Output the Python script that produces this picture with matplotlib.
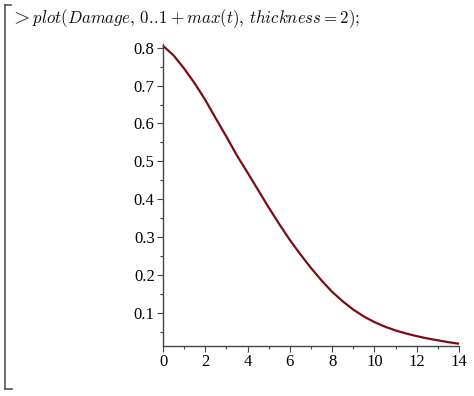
import matplotlib
matplotlib.use("Agg")
import matplotlib.pyplot as plt
from matplotlib.lines import Line2D
from matplotlib.ticker import MultipleLocator

# Data
t = [0, 0.5, 1, 1.5, 2, 2.5, 3, 3.5, 4, 4.5, 5, 5.5, 6, 6.5, 7, 7.5,
     8, 8.5, 9, 9.5, 10, 10.5, 11, 11.5, 12, 12.5, 13, 13.5, 14]
damage = [0.805, 0.780, 0.745, 0.706, 0.662, 0.613, 0.565, 0.515, 0.470,
          0.424, 0.378, 0.334, 0.292, 0.254, 0.218, 0.185, 0.155, 0.130,
          0.108, 0.090, 0.075, 0.063, 0.053, 0.045, 0.038, 0.032, 0.027,
          0.022, 0.018]
x_ticks = [0, 2, 4, 6, 8, 10, 12, 14]
y_ticks = [0.1, 0.2, 0.3, 0.4, 0.5, 0.6, 0.7, 0.8]

plt.rcParams['mathtext.fontset'] = 'cm'

fig = plt.figure(figsize=(4.74, 3.96), dpi=100)
ax = fig.add_axes([0.3439, 0.1263, 0.6245, 0.7626])

ax.plot(t, damage, color='#7a0c16', lw=1.6, solid_capstyle='butt', clip_on=False)

ax.set_xlim(0, 14)
ax.set_ylim(0.012, 0.81)
ax.set_xticks(x_ticks)
ax.set_yticks(y_ticks)
ax.set_xticklabels([str(v) for v in x_ticks])
ax.set_yticklabels([f"{v:.1f}" for v in y_ticks])
ax.xaxis.set_minor_locator(MultipleLocator(1))
ax.yaxis.set_minor_locator(MultipleLocator(0.05))

for s in ['top', 'right']:
    ax.spines[s].set_visible(False)
for s in ['left', 'bottom']:
    ax.spines[s].set_color('#444444')
    ax.spines[s].set_linewidth(1.0)

ax.tick_params(which='major', direction='out', length=4, width=0.8,
               color='#444444', pad=2)
ax.tick_params(which='minor', direction='out', length=2, width=0.8,
               color='#444444')
for lab in ax.get_xticklabels() + ax.get_yticklabels():
    lab.set_fontfamily('Liberation Serif')
    lab.set_fontsize(12)
    lab.set_color('#000000')

# Command line text
fig.text(0.022, 0.957, r"$>$", fontsize=15,
         va='center', ha='left', color='#222222')
fig.text(0.068, 0.952,
         r"$plot(Damage,\,0.\!.\!1+max(t),\,thickness=2);$",
         fontsize=12.2, va='center', ha='left', color='#111111')

# Left bracket
fig.add_artist(Line2D([0.011, 0.011], [0.018, 0.987], transform=fig.transFigure,
                      color='#555555', lw=1.2))
fig.add_artist(Line2D([0.011, 0.024], [0.987, 0.987], transform=fig.transFigure,
                      color='#555555', lw=1.2))
fig.add_artist(Line2D([0.011, 0.026], [0.018, 0.018], transform=fig.transFigure,
                      color='#555555', lw=1.2))

fig.savefig("out.png", dpi=100)
